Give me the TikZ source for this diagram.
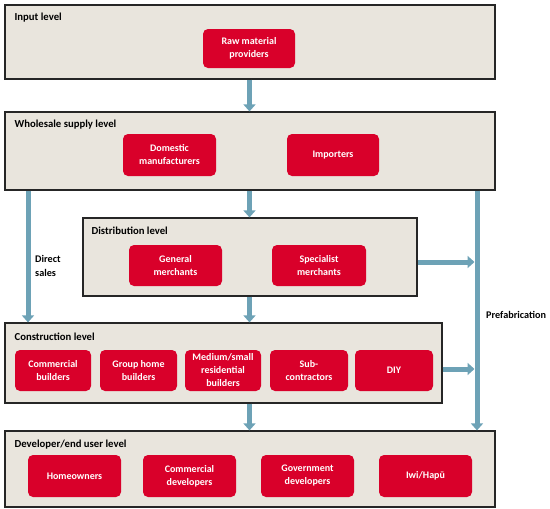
\documentclass[tikz,border=0pt]{standalone}
\usepackage{fontspec}
\setmainfont{Carlito}
\usetikzlibrary{arrows.meta,positioning,calc}
\definecolor{levelfill}{HTML}{E9E5DD}
\definecolor{redbox}{HTML}{D9002A}
\definecolor{flow}{HTML}{6DA2B6}
\tikzset{
  levelbox/.style={draw=black!85, line width=1.2pt, fill=levelfill, inner sep=0pt},
  actor/.style={fill=redbox, rounded corners=5pt, text=white, font=\fontsize{10}{13}\selectfont\bfseries, align=center, inner sep=0pt, minimum height=41pt},
  title/.style={anchor=west, font=\fontsize{10.7}{12}\selectfont\bfseries, inner sep=0pt},
  lbl/.style={anchor=west, font=\fontsize{10.2}{14}\selectfont\bfseries, align=left, inner sep=0pt},
  flowarrow/.style={draw=flow, line width=5pt, -{Triangle[width=12pt,length=7pt]}}
}
\begin{document}
\begin{tikzpicture}[x=1pt,y=-1pt]
\useasboundingbox (0,0) rectangle (550,509);
% level boxes
\node[levelbox, minimum width=490pt, minimum height=74pt] (input) at (250,42) {};
\node[levelbox, minimum width=490pt, minimum height=78pt] (wholesale) at (250,151) {};
\node[levelbox, minimum width=334pt, minimum height=78pt] (distribution) at (250,257) {};
\node[levelbox, minimum width=437pt, minimum height=80pt] (construction) at (223.5,363) {};
\node[levelbox, minimum width=490pt, minimum height=76pt] (developer) at (250,469) {};
% titles
\node[title] (tinput) at ($(input.north west)+(10,13)$) {Input level};
\node[title] (twholesale) at ($(wholesale.north west)+(10,13.5)$) {Wholesale supply level};
\node[title] (tdistribution) at ($(distribution.north west)+(9,13.5)$) {Distribution level};
\node[title] (tconstruction) at ($(construction.north west)+(10,14)$) {Construction level};
\node[title] (tdeveloper) at ($(developer.north west)+(10,14)$) {Developer/end user level};
% actors
\node[actor, minimum width=92pt, minimum height=39pt] (raw) at (249,48.5) {Raw material\\providers};
\node[actor, minimum width=93pt, minimum height=42pt] (domestic) at (169.5,155) {Domestic\\manufacturers};
\node[actor, minimum width=92pt, minimum height=42pt] (importers) at (333,155) {Importers};
\node[actor, minimum width=93pt] (general) at (175.5,265.5) {General\\merchants};
\node[actor, minimum width=94pt] (specialist) at (319,265.5) {Specialist\\merchants};
\node[actor, minimum width=76pt] (combuild) at (53,370.5) {Commercial\\builders};
\node[actor, minimum width=77pt] (group) at (138.5,370.5) {Group home\\builders};
\node[actor, minimum width=76pt] (medium) at (223,370.5) {Medium/small\\residential\\builders};
\node[actor, minimum width=78pt] (sub) at (309,370.5) {Sub-\\contractors};
\node[actor, minimum width=78pt] (diy) at (394,370.5) {DIY};
\node[actor, minimum width=93pt, minimum height=42pt] (home) at (74.5,476) {Homeowners};
\node[actor, minimum width=93pt, minimum height=42pt] (comdev) at (189.5,476) {Commercial\\developers};
\node[actor, minimum width=93pt, minimum height=42pt] (gov) at (307.5,476) {Government\\developers};
\node[actor, minimum width=93pt, minimum height=42pt] (iwi) at (425.5,476) {Iwi/Hapū};
% flow coordinates
\coordinate (cx) at (249.5,0);
\coordinate (dx) at (28,0);
\coordinate (px) at (477,0);
% flows
\draw[flowarrow] (input.south -| cx) -- (wholesale.north -| cx);
\draw[flowarrow] (wholesale.south -| cx) -- (distribution.north -| cx);
\draw[flowarrow] (distribution.south -| cx) -- (construction.north -| cx);
\draw[flowarrow] (construction.south -| cx) -- (developer.north -| cx);
\draw[flowarrow] (wholesale.south -| dx) -- (construction.north -| dx);
\draw[flowarrow] (wholesale.south -| px) -- (developer.north -| px);
\coordinate (dj) at (px |- 0,262);
\coordinate (cj) at (px |- 0,369);
\draw[flowarrow, shorten >=2.5pt] (distribution.east |- dj) -- (dj);
\draw[flowarrow, shorten >=2.5pt] (construction.east |- cj) -- (cj);
% labels
\node[lbl] (direct) at (35,266) {Direct\\sales};
\node[lbl] (prefab) at (486,315) {Prefabrication};
\end{tikzpicture}
\end{document}
